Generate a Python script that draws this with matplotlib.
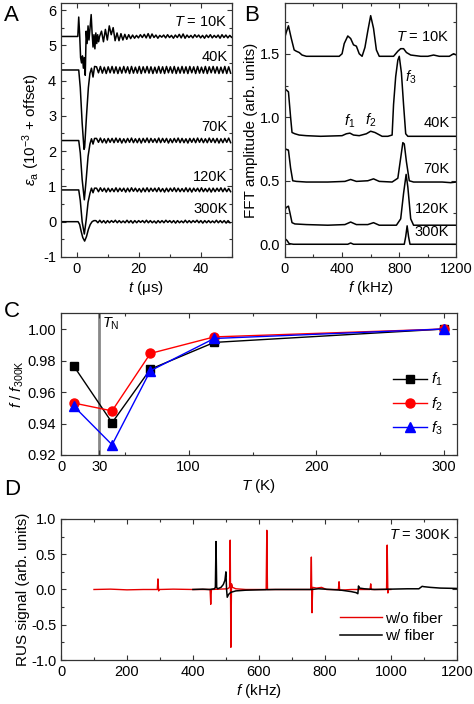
import numpy as np
import matplotlib
matplotlib.use("Agg")
import matplotlib.pyplot as plt
from matplotlib.ticker import MultipleLocator, FixedLocator

plt.rcParams['font.family'] = ['Liberation Sans', 'DejaVu Sans']
plt.rcParams['mathtext.fontset'] = 'custom'
plt.rcParams['mathtext.rm'] = 'Liberation Sans'
plt.rcParams['mathtext.it'] = 'Liberation Sans:italic'
plt.rcParams['mathtext.bf'] = 'Liberation Sans:bold'
plt.rcParams['axes.unicode_minus'] = False

# ---------------- panel A : strain vs time (offset traces) ----------------
a_labels = ['$T$ = 10K', '40K', '70K', '120K', '300K']
a_offsets = [5.25, 4.3, 2.3, 0.9, 0.0]
a_step = 0.625   # sampling of the ringing tail (us)

a10_t = [-5, 0.4, 0.7, 1.0, 1.3, 1.6, 1.9, 2.2, 2.5, 2.8, 3.1, 3.4, 3.7, 4.0, 4.3,
         4.7, 5.0, 5.3, 5.6, 5.9, 6.2, 6.5, 6.8, 7.1, 7.4]
a10_d = [0, 0, 0.55, 0.05, -0.6, -0.75, -0.55, -0.9, -0.6, -1.1, 0.15, -0.2, 0.3, -0.1, 0.2,
         0.62, 0.1, -0.3, 0.05, -0.35, 0.1, -0.2, 0.05, -0.15, 0.0]
a10_tail = [0.15, -0.15, 0.2, -0.1, 0.3, 0.05, 0.25, -0.12, 0.1, -0.12, 0.08, -0.1, 0.06, -0.08,
            0.05, -0.06, 0.04, -0.05, 0.03, -0.04, 0.05, -0.03, 0.06, -0.04, 0.08, -0.05, 0.07,
            -0.03, 0.04, -0.05, 0.03, -0.02, 0.04, -0.04, 0.05, -0.03, 0.03, -0.05, 0.04, -0.03,
            0.06, -0.04, 0.07, -0.05, 0.04, -0.03, 0.03, -0.04, 0.05, -0.02, 0.04, -0.04, 0.03,
            -0.05, 0.04, -0.03, 0.05, -0.04, 0.03, -0.03, 0.04, -0.05, 0.05, -0.03, 0.04, -0.04,
            0.03, -0.03, 0.04, -0.04]

a40_t = [-5, 0.7, 1.2, 1.8, 2.4, 2.6, 3.2, 3.8, 4.3, 4.8, 5.3, 5.8]
a40_d = [0, 0, -0.5, -1.5, -2.25, -2.2, -1.3, -0.5, -0.1, 0.05, -0.2, 0.1]
a40_tail = [0.09, -0.08, 0.1, -0.09, 0.08, -0.1, 0.09, -0.08, 0.1, -0.09, 0.09, -0.1, 0.08,
            -0.09, 0.1, -0.08, 0.09, -0.1, 0.1, -0.09, 0.08, -0.09, 0.1, -0.1, 0.09, -0.08, 0.1,
            -0.09, 0.09, -0.1, 0.08, -0.09, 0.1, -0.09, 0.09, -0.1, 0.1, -0.08, 0.09, -0.09, 0.1,
            -0.1, 0.08, -0.09, 0.1, -0.09, 0.09, -0.1, 0.1, -0.08, 0.09, -0.1, 0.1, -0.09, 0.08,
            -0.09, 0.1, -0.1, 0.09, -0.08, 0.1, -0.09, 0.09, -0.1, 0.08, -0.09, 0.1, -0.1, 0.09,
            -0.09]

a70_t = [-5, 0.7, 1.2, 1.8, 2.5, 3.1, 3.7, 4.3, 4.8, 5.3, 5.8]
a70_d = [0, 0, -0.35, -1.1, -1.68, -1.1, -0.45, -0.1, 0.05, -0.1, 0.06]
a70_tail = [0.06, -0.05, 0.07, -0.06, 0.05, -0.07, 0.06, -0.05, 0.06, -0.06, 0.07, -0.05, 0.06,
            -0.07, 0.05, -0.06, 0.06, -0.05, 0.07, -0.06, 0.05, -0.06, 0.06, -0.07, 0.06, -0.05,
            0.07, -0.06, 0.06, -0.05, 0.05, -0.06, 0.07, -0.06, 0.06, -0.05, 0.06, -0.07, 0.05,
            -0.06, 0.06, -0.05, 0.07, -0.06, 0.06, -0.06, 0.05, -0.07, 0.06, -0.05, 0.06, -0.06,
            0.07, -0.05, 0.06, -0.06, 0.05, -0.06, 0.07, -0.05, 0.06, -0.06, 0.06, -0.07, 0.05,
            -0.06, 0.06, -0.05, 0.07, -0.06]

a120_t = [-5, 0.7, 1.2, 1.8, 2.5, 3.1, 3.7, 4.3, 4.8, 5.3, 5.8]
a120_d = [0, 0, -0.3, -0.9, -1.25, -0.85, -0.35, -0.1, 0.05, -0.08, 0.05]
a120_tail = [0.05, -0.05, 0.06, -0.04, 0.05, -0.06, 0.05, -0.05, 0.04, -0.05, 0.06, -0.05, 0.05,
             -0.04, 0.05, -0.06, 0.05, -0.05, 0.06, -0.04, 0.05, -0.05, 0.04, -0.06, 0.05, -0.05,
             0.06, -0.05, 0.05, -0.04, 0.05, -0.05, 0.06, -0.05, 0.04, -0.06, 0.05, -0.05, 0.05,
             -0.04, 0.06, -0.05, 0.05, -0.05, 0.04, -0.05, 0.06, -0.05, 0.05, -0.06, 0.05, -0.04,
             0.05, -0.05, 0.06, -0.05, 0.04, -0.05, 0.05, -0.06, 0.05, -0.05, 0.05, -0.04, 0.06,
             -0.05, 0.05, -0.05, 0.04, -0.05]

a300_t = [-5, 0.5, 1.0, 1.5, 2.0, 2.6, 3.2, 3.8, 4.4, 5.0, 5.6]
a300_d = [0, 0, -0.08, -0.28, -0.45, -0.55, -0.42, -0.22, -0.08, 0.0, 0.03]
a300_tail = [0.03, -0.03, 0.04, -0.03, 0.03, -0.04, 0.03, -0.03, 0.03, -0.02, 0.04, -0.03, 0.03,
             -0.03, 0.02, -0.03, 0.04, -0.03, 0.03, -0.04, 0.03, -0.03, 0.03, -0.02, 0.03, -0.03,
             0.04, -0.03, 0.03, -0.03, 0.02, -0.04, 0.03, -0.03, 0.03, -0.03, 0.04, -0.02, 0.03,
             -0.03, 0.03, -0.04, 0.03, -0.03, 0.02, -0.03, 0.04, -0.03, 0.03, -0.03, 0.03, -0.02,
             0.04, -0.03, 0.03, -0.04, 0.03, -0.03, 0.03, -0.03, 0.02, -0.03, 0.04, -0.03, 0.03,
             -0.03, 0.03, -0.04, 0.03, -0.03]

a_heads_t = [a10_t, a40_t, a70_t, a120_t, a300_t]
a_heads_d = [a10_d, a40_d, a70_d, a120_d, a300_d]
a_tails = [a10_tail, a40_tail, a70_tail, a120_tail, a300_tail]
a_label_y = [5.45, 4.47, 2.48, 1.08, 0.17]

# ---------------- panel B : FFT spectra ----------------
b_labels = ['$T$ = 10K', '40K', '70K', '120K', '300K']
b10_f = [0, 10, 25, 45, 65, 80, 100, 120, 150, 200, 300, 380, 400, 415, 440, 460, 480, 500, 520,
         540, 560, 580, 600, 620, 640, 660, 700, 760, 790, 810, 830, 850, 880, 950, 1000, 1040,
         1080, 1150, 1180, 1200]
b10_a = [1.63, 1.67, 1.72, 1.62, 1.53, 1.52, 1.51, 1.49, 1.48, 1.48, 1.48, 1.48, 1.50, 1.58, 1.64,
         1.62, 1.57, 1.56, 1.50, 1.48, 1.55, 1.68, 1.80, 1.70, 1.53, 1.48, 1.48, 1.48, 1.52, 1.54,
         1.54, 1.51, 1.49, 1.48, 1.48, 1.49, 1.48, 1.48, 1.50, 1.49]
b40_f = [0, 5, 25, 40, 50, 70, 100, 150, 250, 400, 430, 455, 480, 520, 570, 600, 630, 680, 720,
         750, 760, 775, 790, 800, 815, 830, 845, 860, 900, 1000, 1100, 1200]
b40_a = [1.20, 1.22, 1.20, 1.0, 0.88, 0.87, 0.86, 0.855, 0.85, 0.855, 0.87, 0.875, 0.86, 0.855,
         0.87, 0.89, 0.88, 0.85, 0.85, 0.86, 1.10, 1.32, 1.45, 1.48, 1.35, 1.10, 0.87, 0.85, 0.85,
         0.85, 0.85, 0.85]
b70_f = [0, 5, 25, 40, 55, 80, 150, 300, 420, 460, 500, 580, 620, 660, 750, 790, 810, 825, 835,
         850, 870, 900, 1000, 1100, 1160, 1200]
b70_a = [0.74, 0.75, 0.74, 0.6, 0.5, 0.495, 0.49, 0.49, 0.495, 0.51, 0.495, 0.50, 0.515, 0.495,
         0.49, 0.52, 0.68, 0.80, 0.79, 0.65, 0.5, 0.49, 0.49, 0.49, 0.485, 0.49]
b120_f = [0, 10, 25, 35, 50, 70, 150, 300, 420, 460, 500, 580, 620, 660, 780, 810, 830, 848, 860,
          880, 900, 1000, 1200]
b120_a = [0.27, 0.29, 0.3, 0.25, 0.17, 0.16, 0.155, 0.15, 0.155, 0.175, 0.155, 0.155, 0.17, 0.15,
          0.15, 0.2, 0.4, 0.55, 0.45, 0.2, 0.15, 0.15, 0.15]
b300_f = [0, 5, 15, 30, 60, 200, 440, 460, 480, 700, 835, 845, 855, 865, 875, 1000, 1200]
b300_a = [0.03, 0.04, 0.03, 0.005, 0.0, 0.0, 0.0, 0.01, 0.0, 0.0, 0.0, 0.06, 0.145, 0.06, 0.0,
          0.0, 0.0]
b_f = [b10_f, b40_f, b70_f, b120_f, b300_f]
b_a = [b10_a, b40_a, b70_a, b120_a, b300_a]
b_label_y = [1.58, 0.9, 0.54, 0.22, 0.04]

# ---------------- panel C : normalised frequencies ----------------
c_T = [10, 40, 70, 120, 300]
c_f1 = [0.9765, 0.9405, 0.9745, 0.9915, 1.0]
c_f2 = [0.953, 0.948, 0.9845, 0.995, 1.0]
c_f3 = [0.951, 0.9265, 0.9735, 0.994, 1.0]
T_N = 30

# ---------------- panel D : RUS signal at 300 K ----------------
red_f = [100, 150, 200, 250, 292, 294, 296, 298, 340, 400, 452, 454, 456,
         505, 511, 513, 515, 517, 520, 530, 560, 622, 624, 626, 680, 740,
         757, 759, 761, 763, 775, 790, 805, 841, 843, 845, 880, 937, 939, 941,
         987, 989, 991, 993, 1000]
red_y = [0.0, 0.005, -0.005, 0.0, 0.0, 0.15, -0.02, 0.0, 0.005, 0.0, 0.0, -0.21, 0.0,
         0.01, 0.03, 0.7, -0.82, 0.08, 0.03, 0.01, 0.0, 0.0, 0.84, 0.0, 0.0, 0.0,
         0.0, 0.46, -0.33, 0.03, 0.02, 0.03, 0.0, 0.0, 0.11, -0.01, 0.0, 0.0, 0.08, 0.0,
         0.0, 0.63, -0.05, 0.0, 0.0]
black_f = [400, 430, 450, 465, 468, 470, 472, 475, 485, 492, 497, 500, 502, 504, 508, 515, 530,
           560, 600, 650, 700, 760, 780, 800, 850, 880, 895, 900, 902, 905, 920, 950, 1000, 1050,
           1085, 1095, 1100, 1120, 1150, 1200]
black_y = [0.0, 0.005, 0.0, 0.01, 0.03, 0.68, 0.03, 0.01, 0.03, 0.07, 0.13, 0.25, 0.0, -0.11,
           -0.07, -0.04, -0.02, -0.01, -0.005, 0.0, 0.0, 0.0, 0.01, 0.005, -0.01, -0.03, -0.045,
           -0.06, 0.05, 0.02, 0.01, 0.0, 0.005, 0.01, 0.01, 0.045, 0.04, 0.03, 0.02, 0.015]

TICK_FS = 10.5
LAB_FS = 11
TXT_FS = 10.5


def style(ax):
    for s in ax.spines.values():
        s.set_linewidth(0.9)
        s.set_color('#333333')
    ax.tick_params(which='both', direction='in', top=True, right=True,
                   labelsize=TICK_FS, width=0.8, color='#333333')
    ax.tick_params(which='major', length=3.5)
    ax.tick_params(which='minor', length=2)


fig = plt.figure(figsize=(4.74, 7.04), dpi=100)

# A
axA = fig.add_axes([0.1287, 0.635, 0.3608, 0.3608])
for k in range(5):
    t = list(a_heads_t[k]) + list(a_heads_t[k][-1] + a_step * np.arange(1, len(a_tails[k]) + 1))
    d = list(a_heads_d[k]) + list(a_tails[k])
    axA.plot(t, np.array(d) + a_offsets[k], color='black', lw=1.1)
    axA.text(48.5, a_label_y[k], a_labels[k], ha='right', va='bottom', fontsize=TXT_FS)
axA.set_xlim(-5, 50)
axA.set_ylim(-1, 6.2)
axA.xaxis.set_major_locator(MultipleLocator(20))
axA.xaxis.set_minor_locator(MultipleLocator(10))
axA.yaxis.set_major_locator(MultipleLocator(1))
axA.yaxis.set_minor_locator(MultipleLocator(0.5))
axA.set_xlabel('$t$ (\u03bcs)', fontsize=LAB_FS, labelpad=2)
axA.set_ylabel('$\\varepsilon_\\mathrm{a}$ (10$^{-3}$ + offset)', fontsize=LAB_FS, labelpad=1)
style(axA)

# B
axB = fig.add_axes([0.601, 0.635, 0.362, 0.3608])
for k in range(5):
    axB.plot(b_f[k], b_a[k], color='black', lw=1.1)
    axB.text(1150, b_label_y[k], b_labels[k], ha='right', va='bottom', fontsize=TXT_FS)
axB.text(450, 0.9, '$f_1$', ha='center', va='bottom', fontsize=TXT_FS)
axB.text(600, 0.91, '$f_2$', ha='center', va='bottom', fontsize=TXT_FS)
axB.text(840, 1.25, '$f_3$', ha='left', va='bottom', fontsize=TXT_FS)
axB.set_xlim(0, 1200)
axB.set_ylim(-0.1, 1.9)
axB.xaxis.set_major_locator(MultipleLocator(400))
axB.xaxis.set_minor_locator(MultipleLocator(200))
axB.yaxis.set_major_locator(FixedLocator([0.0, 0.5, 1.0, 1.5]))
axB.yaxis.set_minor_locator(FixedLocator([0.25, 0.75, 1.25, 1.75]))
axB.yaxis.set_major_formatter(plt.FormatStrFormatter('%.1f'))
axB.set_xlabel('$f$ (kHz)', fontsize=LAB_FS, labelpad=2)
axB.set_ylabel('FFT amplitude (arb. units)', fontsize=LAB_FS, labelpad=1)
style(axB)

# C
axC = fig.add_axes([0.1287, 0.3537, 0.835, 0.2013])
axC.axvline(T_N, color='#888888', lw=2, zorder=0)
axC.plot(c_T, c_f1, '-s', color='black', mec='black', mfc='black', ms=6, lw=1, label='$f_1$')
axC.plot(c_T, c_f2, '-o', color='red', mec='red', mfc='red', ms=6.5, lw=1, label='$f_2$')
axC.plot(c_T, c_f3, '-^', color='blue', mec='blue', mfc='blue', ms=7, lw=1, label='$f_3$')
axC.text(T_N + 2, 1.0085, '$T_\\mathrm{N}$', ha='left', va='top', fontsize=TXT_FS)
axC.set_xlim(0, 310)
axC.set_ylim(0.92, 1.01)
axC.xaxis.set_major_locator(FixedLocator([0, 30, 100, 200, 300]))
axC.xaxis.set_minor_locator(FixedLocator([50, 150, 250]))
axC.yaxis.set_major_locator(MultipleLocator(0.02))
axC.yaxis.set_major_formatter(plt.FormatStrFormatter('%.2f'))
axC.set_xlabel('$T$ (K)', fontsize=LAB_FS, labelpad=2)
axC.set_ylabel('$f$ / $f_\\mathrm{300K}$', fontsize=LAB_FS, labelpad=1)
axC.legend(loc='lower right', bbox_to_anchor=(1.0, 0.03), frameon=False, fontsize=LAB_FS,
           handlelength=2.2, labelspacing=0.45, handletextpad=0.3)
style(axC)

# D
axD = fig.add_axes([0.1287, 0.0625, 0.835, 0.2003])
axD.plot(red_f, red_y, color='#e60000', lw=1.0, label='w/o fiber')
axD.plot(black_f, black_y, color='black', lw=1.1, label='w/ fiber')
axD.text(1180, 0.78, '$T$ = 300K', ha='right', va='center', fontsize=TXT_FS)
axD.set_xlim(0, 1200)
axD.set_ylim(-1, 1)
axD.xaxis.set_major_locator(MultipleLocator(200))
axD.xaxis.set_minor_locator(MultipleLocator(100))
axD.yaxis.set_major_locator(MultipleLocator(0.5))
axD.yaxis.set_minor_locator(MultipleLocator(0.25))
axD.yaxis.set_major_formatter(plt.FormatStrFormatter('%.1f'))
axD.set_xlabel('$f$ (kHz)', fontsize=LAB_FS, labelpad=2)
axD.set_ylabel('RUS signal (arb. units)', fontsize=LAB_FS, labelpad=1)
axD.legend(loc='lower right', bbox_to_anchor=(1.0, 0.02), frameon=False, fontsize=LAB_FS,
           handlelength=2.8, labelspacing=0.25, handletextpad=0.2)
style(axD)

for lab, x, y in [('A', 0.008, 0.993), ('B', 0.515, 0.993), ('C', 0.008, 0.572), ('D', 0.008, 0.32)]:
    fig.text(x, y, lab, fontsize=16, ha='left', va='top')

fig.savefig('out.png', dpi=100)
